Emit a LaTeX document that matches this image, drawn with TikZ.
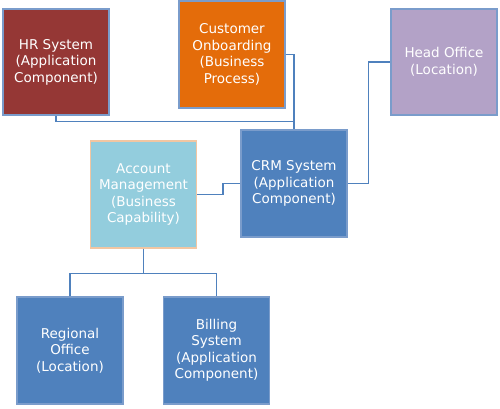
\documentclass[tikz,border=0pt]{standalone}
\usepackage{fontspec}
\setmainfont{DejaVu Sans}
\usetikzlibrary{calc}
\definecolor{hrred}{HTML}{953735}
\definecolor{procorange}{HTML}{E46C0A}
\definecolor{locpurple}{HTML}{B3A2C7}
\definecolor{appblue}{HTML}{4F81BD}
\definecolor{capblue}{HTML}{93CDDD}
\definecolor{edgeblue}{HTML}{7A9CCB}
\definecolor{edgepeach}{HTML}{F2C6A2}
\definecolor{linkblue}{HTML}{4F81BD}

\begin{document}
\begin{tikzpicture}[x=1pt,y=-1pt,line cap=butt,line join=miter,
  every node/.style={inner sep=0pt,font=\fontsize{13.5}{16.5}\selectfont},
  box/.style={draw=edgeblue,line width=1.2pt,minimum width=106pt,minimum height=106pt,
    align=center,text=white},
  link/.style={draw=linkblue,line width=1.5pt}]
  \useasboundingbox (0,0) rectangle (500,408);
  % 上排
  \node[box,fill=hrred] (hr) at (56,62) {HR System\\(Application\\Component)};
  \node[box,fill=procorange,minimum height=107pt] (onboard) at (232,54.5) {Customer\\Onboarding\\(Business\\Process)};
  \node[box,fill=locpurple] (head) at (444,62) {Head Office\\(Location)};
  % 中排
  \node[box,fill=appblue,minimum height=107pt] (crm) at (294,183.5) {CRM System\\(Application\\Component)};
  \node[box,fill=capblue,draw=edgepeach,minimum height=107pt] (acct) at (143.5,194.5) {Account\\Management\\(Business\\Capability)};
  % 下排
  \node[box,fill=appblue,minimum height=107pt] (regional) at (70,350.5) {Regional\\Office\\(Location)};
  \node[box,fill=appblue,minimum height=107pt] (billing) at (216.5,350.5) {Billing\\System\\(Application\\Component)};
  % 连线
  \coordinate (join) at ($(crm.north)+(0,-8)$);
  \coordinate (split) at ($(acct.south)+(0,25)$);
  \draw[link] (hr.south) |- (join) -- (crm.north);
  \draw[link] (onboard.east) -| (crm.north);
  \draw[link] (crm.east) -- ++(21,0) |- (head.west);
  \draw[link] (acct.east) -- ++(26,0) |- (crm.west);
  \draw[link] (acct.south) -- (split);
  \draw[link] (regional.north) |- (split) -| (billing.north);
\end{tikzpicture}
\end{document}
